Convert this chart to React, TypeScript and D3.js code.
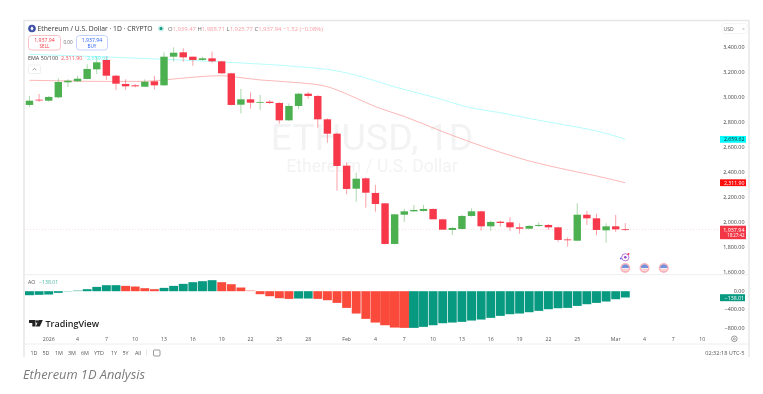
import React from "react";
import * as d3 from "d3";

const days = d3.range(-2, 61);
const opens = [2934,2976,2968,2995,3115,3123,3142,3219,3294,3168,3102,3091,3080,3123,3091,3320,3355,3320,3294,3307,3283,3187,2936,2979,2952,2960,2950,2811,2926,3024,3006,2819,2704,2448,2264,2347,2230,2147,1822,2056,2083,2086,2102,2019,1934,1942,2046,2083,1963,2000,1995,1955,1944,1966,1974,1955,1858,1848,2056,2027,1931,1963,1939.47];
const closes = [2968,2971,2998,3118,3128,3144,3222,3275,3168,3104,3083,3083,3120,3091,3320,3352,3315,3294,3307,3283,3187,2934,2979,2952,2958,2950,2811,2926,3024,3006,2819,2704,2446,2262,2344,2232,2142,1822,2059,2083,2094,2102,2019,1936,1950,2046,2083,1963,1998,1990,1955,1944,1966,1974,1955,1854,1854,2056,2027,1934,1963,1939,1937.94];
const highs = [3006,3022,3006,3147,3139,3168,3259,3320,3320,3174,3139,3102,3139,3166,3355,3395,3387,3320,3320,3360,3288,3192,3062,3035,3014,2974,2955,2947,3030,3038,3012,2827,2712,2475,2392,2355,2294,2147,2059,2102,2134,2134,2106,2024,1958,2052,2106,2088,2008,2008,2035,1987,1974,1995,1982,1960,1875,2147,2086,2064,1987,2054,1988.71];
const lows = [2915,2958,2960,2987,3078,3120,3139,3182,3134,3054,3056,3075,3078,3059,3086,3283,3280,3248,3288,3272,3182,2931,2867,2904,2894,2942,2784,2806,2899,2984,2752,2632,2248,2219,2160,2112,2080,1818,1818,2000,2078,2080,2094,2012,1894,1936,2040,1928,1928,1960,1926,1904,1940,1958,1934,1840,1800,1844,1974,1891,1832,1918,1925.77];

const emaFastDays = [-2,2,6,10,12,16,18,20,22,26,29,31,34,37,41,43,47,50,54,57,60];
const emaFast = [3131,3126,3122,3123,3134,3162,3168,3152,3134,3112,3080,3022,2920,2842,2720,2662,2555,2486,2414,2366,2311.9];
const emaSlowDays = [-2,6,12,20,26,30,33,36,40,44,47,50,54,57,60];
const emaSlow = [3339,3318,3299,3270,3240,3206,3150,3078,2998,2910,2872,2826,2770,2726,2659.62];

const aoValues = [-88,-80,-73,-37,-7,22,44,95,132,132,117,103,66,44,73,117,161,198,220,242,198,154,81,22,-66,-110,-154,-169,-161,-161,-169,-198,-257,-367,-491,-608,-689,-748,-799,-806,-806,-784,-748,-704,-689,-674,-645,-623,-586,-542,-506,-491,-462,-432,-396,-374,-367,-323,-286,-257,-227,-176,-138.01];

const priceTicks = [3400,3200,3000,2800,2600,2400,2200,2000,1800,1600];
const aoTicks = [0,-400,-800];
const timeTicks: [number,string][] = [[0,"2026"],[3,"4"],[6,"7"],[9,"10"],[12,"13"],[15,"16"],[18,"19"],[21,"22"],[24,"25"],[27,"28"],[31,"Feb"],[34,"4"],[37,"7"],[40,"10"],[43,"13"],[46,"16"],[49,"19"],[52,"22"],[55,"25"],[59,"Mar"],[62,"4"],[65,"7"],[68,"10"]];
const ranges: [string,number][] = [["1D",34],["5D",46],["1M",59],["3M",72],["6M",85],["YTD",99],["1Y",114],["5Y",125.5],["All",138]];
const flagDays = [60,62,64];

const x = d3.scaleLinear().domain([0,60]).range([48.7,625.3]);
const y = d3.scaleLinear().domain([3400,1600]).range([46.7,271.7]);
const ao = d3.scaleLinear().domain([0,-800]).range([291.2,327.6]);
const green = "#4caf50", red = "#f7374a", teal = "#089981", aoRed = "#f94a3b";
const sans = "'Open Sans', Roboto, sans-serif";
const fmt = (v:number)=>d3.format(",.2f")(v).replace("-","−");

export default function App(){
  const lineF = d3.line<number>().x((_,i)=>x(emaFastDays[i])).y(d=>y(d)).curve(d3.curveMonotoneX);
  const lineS = d3.line<number>().x((_,i)=>x(emaSlowDays[i])).y(d=>y(d)).curve(d3.curveMonotoneX);
  return (
    <svg width={763} height={394} style={{position:"absolute",left:0,top:0,background:"#fff",filter:"blur(0.4px)"}} fontFamily={sans}>
      <path d="M24 357V20.5H749V357" fill="none" stroke="#e6e6e6" strokeWidth={1.4}/>
      <line x1={24} x2={748} y1={274.7} y2={274.7} stroke="#eeeef0"/>
      <line x1={24} x2={748} y1={344} y2={344} stroke="#eeeef0"/>

      <text x={372} y={150} textAnchor="middle" fontSize={37.5} fill="#f3f3f4" fontFamily="Roboto, sans-serif">ETHUSD, 1D</text>
      <text x={372} y={172} textAnchor="middle" fontSize={17.5} fill="#f3f3f4" fontFamily="Roboto, sans-serif">Ethereum / U.S. Dollar</text>

      <line x1={24} x2={720} y1={y(1937.94)} y2={y(1937.94)} stroke="#fbd0d4" strokeWidth={0.7} strokeDasharray="1 2"/>
      <path d={lineF(emaFast)!} fill="none" stroke="#fba5a5" strokeWidth={0.8}/>
      <path d={lineS(emaSlow)!} fill="none" stroke="#a5fbfb" strokeWidth={0.8}/>

      {days.map((d,i)=>{
        const up = closes[i]>=opens[i]; const c = up?green:red;
        const top = y(Math.max(opens[i],closes[i])), bot = y(Math.min(opens[i],closes[i]));
        return <g key={d}>
          <line x1={x(d)} x2={x(d)} y1={y(highs[i])} y2={y(lows[i])} stroke={c} strokeWidth={0.8} strokeOpacity={0.6}/>
          <rect x={x(d)-3.7} width={7.4} y={top} height={Math.max(bot-top,0.8)} fill={c}/>
        </g>;
      })}

      {days.map((d,i)=>{
        const v = aoValues[i]; const prev = i?aoValues[i-1]:-95;
        const c = v>=prev?teal:aoRed;
        const w = (d>=34&&d<=38)?9.7:8.9;
        const a = ao(Math.max(v,0)), b = ao(Math.min(v,0));
        return <rect key={d} x={x(d)-w/2} y={a} width={w} height={Math.max(b-a,0.5)} fill={c} fillOpacity={Math.abs(v)<25?0.45:1}/>;
      })}

      {/* legend */}
      <circle cx={32} cy={28.5} r={3.8} fill="#3f51a5"/>
      <path d="M32 26.2l1.5 2.4-1.5 2.1-1.5-2.1z" fill="#fff"/>
      <text x={37.5} y={31} fontSize={6.8} fill="#333" fontWeight={500}>Ethereum / U.S. Dollar · 1D · CRYPTO</text>
      <circle cx={161} cy={28.5} r={3} fill="#cdeee9"/><circle cx={161} cy={28.5} r={1.5} fill={teal}/>
      <text x={168} y={31} fontSize={5.9} fill="#f89ea6">
        <tspan fill="#666">O</tspan>1,939.47 <tspan fill="#666">H</tspan>1,988.71 <tspan fill="#666">L</tspan>1,925.77 <tspan fill="#666">C</tspan>1,937.94 −1.52 (−0.08%)
      </text>

      <rect x={28.5} y={35.5} width={32} height={14.5} rx={3} fill="#fff" stroke="#f9b4ba" strokeWidth={0.8}/>
      <text x={44.5} y={41.8} textAnchor="middle" fontSize={5.2} fill="#f23645">1,937.94</text>
      <text x={44.5} y={47.8} textAnchor="middle" fontSize={4.6} fill="#f23645">SELL</text>
      <text x={68} y={44.2} textAnchor="middle" fontSize={4.6} fill="#666">0.00</text>
      <rect x={76.5} y={35.5} width={31} height={14.5} rx={3} fill="#fff" stroke="#b6c8fb" strokeWidth={0.8}/>
      <text x={92} y={41.8} textAnchor="middle" fontSize={5.2} fill="#2962ff">1,937.94</text>
      <text x={92} y={47.8} textAnchor="middle" fontSize={4.6} fill="#2962ff">BUY</text>

      <text x={28} y={60} fontSize={5.4} fill="#444">EMA 50/100</text>
      <text x={61} y={60} fontSize={5.4} fill="#f7525f">{fmt(emaFast[emaFast.length-1])}</text>
      <text x={87} y={60} fontSize={5.4} fill="#5ff2f2">{fmt(emaSlow[emaSlow.length-1])}</text>
      <rect x={28.5} y={65} width={12} height={8.5} rx={1.5} fill="#fff" stroke="#e8e8e8" strokeWidth={0.7}/>
      <path d="M32.7 70.2l1.8-1.8 1.8 1.8" fill="none" stroke="#555" strokeWidth={0.6}/>

      {/* price axis */}
      <rect x={722} y={23.5} width={25} height={10} rx={2} fill="#fff" stroke="#f0f0f0" strokeWidth={0.7}/>
      <text x={723.5} y={31} fontSize={5} fill="#555">USD</text>
      <path d="M742.5 29h2" stroke="#777" strokeWidth={0.6}/>
      {priceTicks.map(t=><text key={t} x={744.5} y={y(t)+2} textAnchor="end" fontSize={5.4} fill="#444">{fmt(t)}</text>)}
      {aoTicks.map(t=><text key={t} x={744.5} y={ao(t)+2} textAnchor="end" fontSize={5.4} fill="#444">{fmt(t)}</text>)}

      <rect x={720} y={y(2659.62)-3.3} width={26} height={6.8} fill="#00ffff"/>
      <text x={744.5} y={y(2659.62)+2} textAnchor="end" fontSize={5.2} fill="#222">{fmt(2659.62)}</text>
      <rect x={720} y={y(2311.9)-3.4} width={26} height={6.8} fill="#ff0d0d"/>
      <text x={744.5} y={y(2311.9)+1.9} textAnchor="end" fontSize={5.2} fill="#fff">{fmt(2311.9)}</text>
      <rect x={720} y={225.7} width={26} height={13.5} fill="#f23645"/>
      <text x={744.5} y={231.6} textAnchor="end" fontSize={5.4} fill="#fff">{fmt(1937.94)}</text>
      <text x={744.5} y={237.4} textAnchor="end" fontSize={4.4} fill="#fff">18:27:42</text>
      <rect x={720} y={294.2} width={25} height={7} fill={teal}/>
      <text x={744} y={299.7} textAnchor="end" fontSize={5.2} fill="#fff">{fmt(-138.01)}</text>

      {/* events */}
      <circle cx={x(60)} cy={257.3} r={3.6} fill="#fff" stroke="#b267d8" strokeWidth={0.9}/>
      <circle cx={x(60)} cy={257.3} r={1.3} fill="#8e44c8"/>
      <circle cx={x(60)-4.5} cy={258.5} r={0.9} fill="#5b6cf0"/>
      <circle cx={x(60)+3.2} cy={254} r={0.9} fill="#f23645"/>
      {flagDays.map(d=>{
        const cx = x(d); const cy = 268;
        return <g key={d}>
          <circle cx={cx} cy={cy} r={5} fill="#f9b7bc"/>
          <circle cx={cx} cy={cy} r={3.6} fill="#f7a6ac"/>
          <path d={`M${cx-3.6} ${cy}a3.6 3.6 0 0 1 7.2 0z`} fill="#6f93dd"/>
          <path d={`M${cx-3.4} ${cy+0.2}h6.8v1.2h-6.8z`} fill="#fff"/>
          <path d={`M${cx-2.6} ${cy+2.2}h5.2v0.6h-5.2z`} fill="#fff"/>
        </g>;
      })}

      {/* AO legend */}
      <text x={28} y={283.5} fontSize={5.2} fill="#555">AO</text>
      <text x={39} y={283.5} fontSize={5.2} fill="#4db6a5">{fmt(-138.01)}</text>

      {/* logo */}
      <path d="M29 320h6.5v6.6h-3.2v-3.6h-3.3z" fill="#222"/>
      <circle cx={37} cy={321.6} r={1.3} fill="#222"/>
      <path d="M38.6 320h4.2l-3 6.6h-4z" fill="#222"/>
      <text x={45.5} y={326.8} fontSize={9} fontWeight={600} fill="#222">TradingView</text>

      {/* time axis */}
      {timeTicks.map(([d,l])=><text key={d} x={x(d)} y={340.5} textAnchor="middle" fontSize={5.2} fill="#555">{l}</text>)}
      <circle cx={734.3} cy={338.8} r={2.8} fill="none" stroke="#555" strokeWidth={0.6}/>
      <circle cx={734.3} cy={338.8} r={1} fill="none" stroke="#555" strokeWidth={0.5}/>

      {ranges.map(([l,px])=><text key={l} x={px} y={355} textAnchor="middle" fontSize={5.4} fill="#555">{l}</text>)}
      <line x1={146.5} x2={146.5} y1={349} y2={356} stroke="#ddd" strokeWidth={0.6}/>
      <rect x={153.5} y={350} width={6.5} height={6} rx={1} fill="none" stroke="#555" strokeWidth={0.6}/>
      <text x={744.5} y={355} textAnchor="end" fontSize={5.6} fill="#555">02:32:18 UTC-5</text>

      <text x={23} y={379} fontSize={12.8} fontStyle="italic" fill="#7b7b7b" fontFamily="'Open Sans', sans-serif">Ethereum 1D Analysis</text>
    </svg>
  );
}
